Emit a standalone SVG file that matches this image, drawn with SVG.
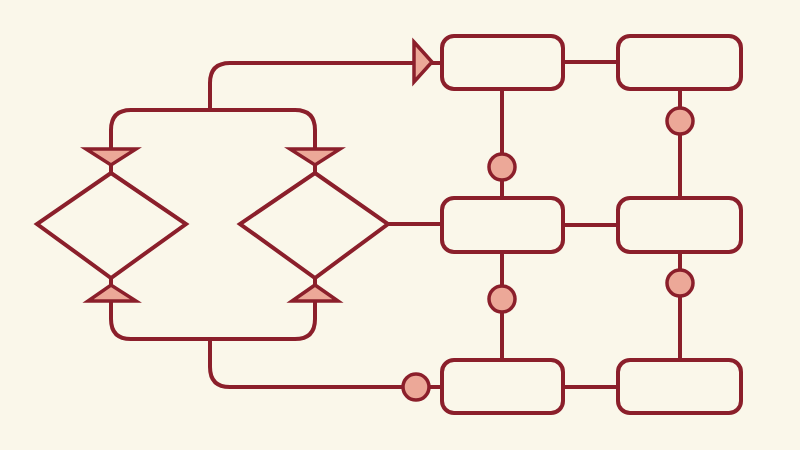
<svg xmlns="http://www.w3.org/2000/svg" width="800" height="450" viewBox="0 0 800 450">
<style>
.ln{fill:none;stroke:#8b1f2b;stroke-width:4;stroke-linecap:round;stroke-linejoin:round}
.box{fill:#faf7ea;stroke:#8b1f2b;stroke-width:4}
.dia{fill:#faf7ea;stroke:#8b1f2b;stroke-width:4;stroke-linejoin:miter}
.mk{fill:#eca898;stroke:#8b1f2b;stroke-width:3.5;stroke-linejoin:miter}
</style>
<rect width="800" height="450" fill="#faf7ea"/>
<g id="connectors">
<path class="ln" d="M210 110 V83 Q210 63 230 63 H442"/>
<path class="ln" d="M111 173 V130 Q111 110 131 110 H295 Q315 110 315 130 V173"/>
<path class="ln" d="M111 278 V319 Q111 339 131 339 H295 Q315 339 315 319 V278"/>
<path class="ln" d="M210 339 V367 Q210 387 230 387 H442"/>
<path class="ln" d="M388 224 H442"/>
<path class="ln" d="M563 62 H618"/>
<path class="ln" d="M563 225 H618"/>
<path class="ln" d="M563 387 H618"/>
<path class="ln" d="M502 89 V197"/>
<path class="ln" d="M502 252 V360"/>
<path class="ln" d="M680 89 V197"/>
<path class="ln" d="M680 252 V360"/>
<polygon class="mk" points="414,42 432,62 414,82"/>
<polygon class="mk" points="86,149 136,149 111,165"/>
<polygon class="mk" points="290,149 340,149 315,165"/>
<polygon class="mk" points="88,301 136,301 111,285"/>
<polygon class="mk" points="292,301 338,301 315,285"/>
<circle class="mk" cx="502" cy="167" r="13"/>
<circle class="mk" cx="680" cy="121" r="13"/>
<circle class="mk" cx="502" cy="299" r="13"/>
<circle class="mk" cx="680" cy="283" r="13"/>
<circle class="mk" cx="416" cy="387" r="13"/>
</g>
<g id="decision1"><polygon class="dia" points="111,173 186,224 111,278 37,224"/></g>
<g id="decision2"><polygon class="dia" points="315,173 388,224 315,278 240,224"/></g>
<g id="box1"><rect class="box" x="442" y="36" width="121" height="53" rx="12"/></g>
<g id="box2"><rect class="box" x="618" y="36" width="123" height="53" rx="12"/></g>
<g id="box3"><rect class="box" x="442" y="198" width="121" height="54" rx="12"/></g>
<g id="box4"><rect class="box" x="618" y="198" width="123" height="54" rx="12"/></g>
<g id="box5"><rect class="box" x="442" y="360" width="121" height="53" rx="12"/></g>
<g id="box6"><rect class="box" x="618" y="360" width="123" height="53" rx="12"/></g>
</svg>
